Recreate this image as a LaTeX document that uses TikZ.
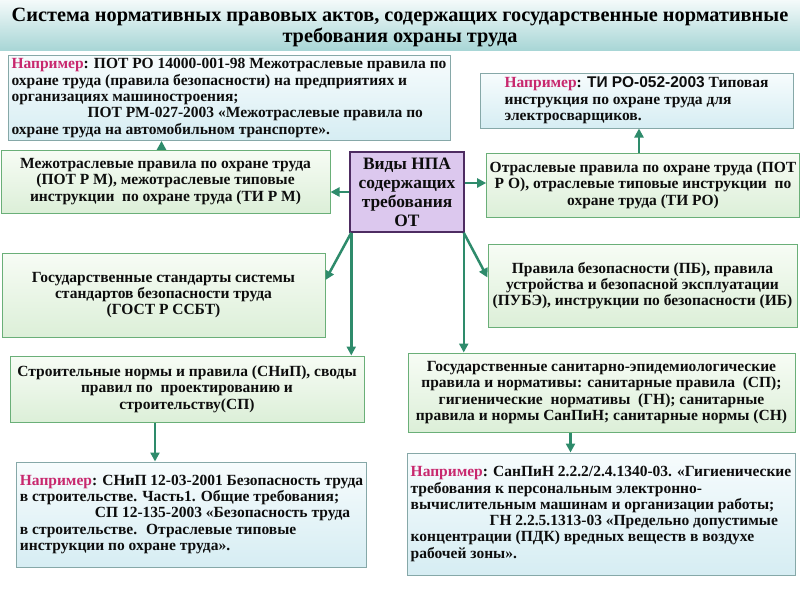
\documentclass[tikz,border=0pt]{standalone}
\usepackage{fontspec}
\setmainfont{Liberation Serif}
\newfontfamily\arialfont{Liberation Sans}
\usetikzlibrary{arrows.meta}

\definecolor{pfeilgruen}{HTML}{2E8B6B}
\definecolor{katrand}{HTML}{6AAF78}
\definecolor{katoben}{HTML}{F7FCF5}
\definecolor{katunten}{HTML}{DCEFD8}
\definecolor{primrand}{HTML}{86A8A8}
\definecolor{primoben}{HTML}{F7FCFD}
\definecolor{primunten}{HTML}{D6EDF3}
\definecolor{vidfill}{HTML}{DCC8EE}
\definecolor{vidrand}{HTML}{4E2C62}
\definecolor{nprot}{HTML}{C8286E}
\definecolor{titeloben}{HTML}{F4FAFA}
\definecolor{titelunten}{HTML}{A8D6D6}

\newcommand{\npr}{\textcolor{nprot}{Например}: }

\tikzset{
	kasten/.style={draw, line width=1pt, inner sep=3pt, text=black!95,
		font=\bfseries\fontsize{15.5}{16.3}\selectfont},
	katbox/.style={kasten, draw=katrand, top color=katoben, bottom color=katunten, align=center},
	primbox/.style={kasten, draw=primrand, top color=primoben, bottom color=primunten, align=left},
	vidbox/.style={kasten, draw=vidrand, line width=1.5pt, fill=vidfill, align=center,
		font=\bfseries\fontsize{17.4}{19}\selectfont},
	pfeil/.style={draw=pfeilgruen, line width=2.5pt, -{Triangle[length=9pt,width=9pt]}},
}

\begin{document}
\begin{tikzpicture}[x=1pt,y=-1pt]
		\useasboundingbox (0,0) rectangle (800,600);
		\fill[white] (0,0) rectangle (800,600);
		% Titel
		\shade[top color=titeloben, bottom color=titelunten] (0,0) rectangle (800,50);
		\node[font=\bfseries\fontsize{20.3}{21}\selectfont, align=center] (titel) at (400,27)
			{Система нормативных правовых актов, содержащих государственные нормативные\\
			 требования охраны труда};
		% Mitte
		\node[vidbox, minimum width=114pt, minimum height=80pt] (vid) at (407,192)
			{Виды НПА\\содержащих\\требования\\ОТ};
		% linke Seite
		\node[primbox, minimum width=442pt, minimum height=78pt] (primA) at (229,98)
			{\npr ПОТ РО 14000-001-98 Межотраслевые правила по\\
			 охране труда (правила безопасности) на предприятиях и\\
			 организациях машиностроения;\\
			 \hspace*{76pt}ПОТ РМ-027-2003 «Межотраслевые правила по\\
			 охране труда на автомобильном транспорте».};
		\node[katbox, minimum width=329pt, minimum height=63pt] (mezh) at (165.5,181.5)
			{Межотраслевые правила по охране труда\\
			 (ПОТ Р М), межотраслевые типовые\\
			 инструкции~ по охране труда (ТИ Р М)};
		\node[katbox, minimum width=323pt, minimum height=84pt] (gost) at (163.5,295)
			{Государственные стандарты системы\\
			 стандартов безопасности труда\\
			 (ГОСТ Р ССБТ)};
		\node[katbox, minimum width=354pt, minimum height=66pt] (snip) at (187,389)
			{Строительные нормы и правила (СНиП), своды\\
			 правил по~ проектированию и\\
			 строительству(СП)};
		\node[primbox, minimum width=347pt, minimum height=105pt] (primI) at (191.5,514.5)
			{\npr СНиП 12-03-2001 Безопасность труда\\
			 в строительстве. Часть1. Общие требования;\\
			 \hspace*{75pt}СП 12-135-2003 «Безопасность труда\\
			 в строительстве.~ Отраслевые типовые\\
			 инструкции по охране труда».};
		% rechte Seite
		\node[primbox, minimum width=313pt, minimum height=55pt] (primB) at (636.5,100.5)
			{\npr{\arialfont ТИ РО-052-2003} Типовая\\
			 инструкция по охране труда для\\
			 электросварщиков.};
		\node[katbox, minimum width=312pt, minimum height=64pt] (otr) at (643,185)
			{Отраслевые правила по охране труда (ПОТ\\
			 Р О), отраслевые типовые инструкции~ по\\
			 охране труда (ТИ РО)};
		\node[katbox, minimum width=309pt, minimum height=83pt] (pb) at (642.5,285.5)
			{Правила безопасности (ПБ), правила\\
			 устройства и безопасной эксплуатации\\
			 (ПУБЭ), инструкции по безопасности (ИБ)};
		\node[katbox, minimum width=387pt, minimum height=79pt] (san) at (601.5,392.5)
			{Государственные санитарно-эпидемиологические\\
			 правила и нормативы: санитарные правила~ (СП);\\
			 гигиенические~ нормативы~ (ГН); санитарные\\
			 правила и нормы СанПиН; санитарные нормы (СН)};
		\node[primbox, minimum width=388pt, minimum height=122pt] (primJ) at (601,514)
			{\npr СанПиН 2.2.2/2.4.1340-03. «Гигиенические\\
			 требования к персональным электронно-\\
			 вычислительным машинам и организации работы;\\
			 \hspace*{79pt}ГН 2.2.5.1313-03 «Предельно допустимые\\
			 концентрации (ПДК) вредных веществ в воздухе\\
			 рабочей зоны».};
		% Pfeile
		\coordinate (gl) at ([xshift=2pt]vid.south west);
		\coordinate (gr) at ([xshift=-1pt]vid.south east);
		\draw[pfeil] (vid.west) -- (vid.west -| mezh.east);
		\draw[pfeil] ([yshift=9pt]vid.east) -- ([yshift=9pt]vid.east -| otr.west);
		\draw[pfeil] ([xshift=-4pt]mezh.north) -- ([xshift=-4pt]mezh.north |- primA.south);
		\draw[pfeil] ([xshift=-4pt]otr.north) -- ([xshift=-4pt]otr.north |- primB.south);
		\draw[pfeil] (gl) -- ([yshift=15pt]gost.east);
		\draw[pfeil] (gl) -- (gl |- snip.north);
		\draw[pfeil] (gr) -- ([yshift=8pt]pb.west);
		\draw[pfeil] (gr) -- (gr |- san.north);
		\draw[pfeil] ([xshift=-32pt]snip.south) -- ([xshift=-32pt]snip.south |- primI.north);
		\draw[pfeil] ([xshift=-31pt]san.south) -- ([xshift=-31pt]san.south |- primJ.north);
\end{tikzpicture}
\end{document}
